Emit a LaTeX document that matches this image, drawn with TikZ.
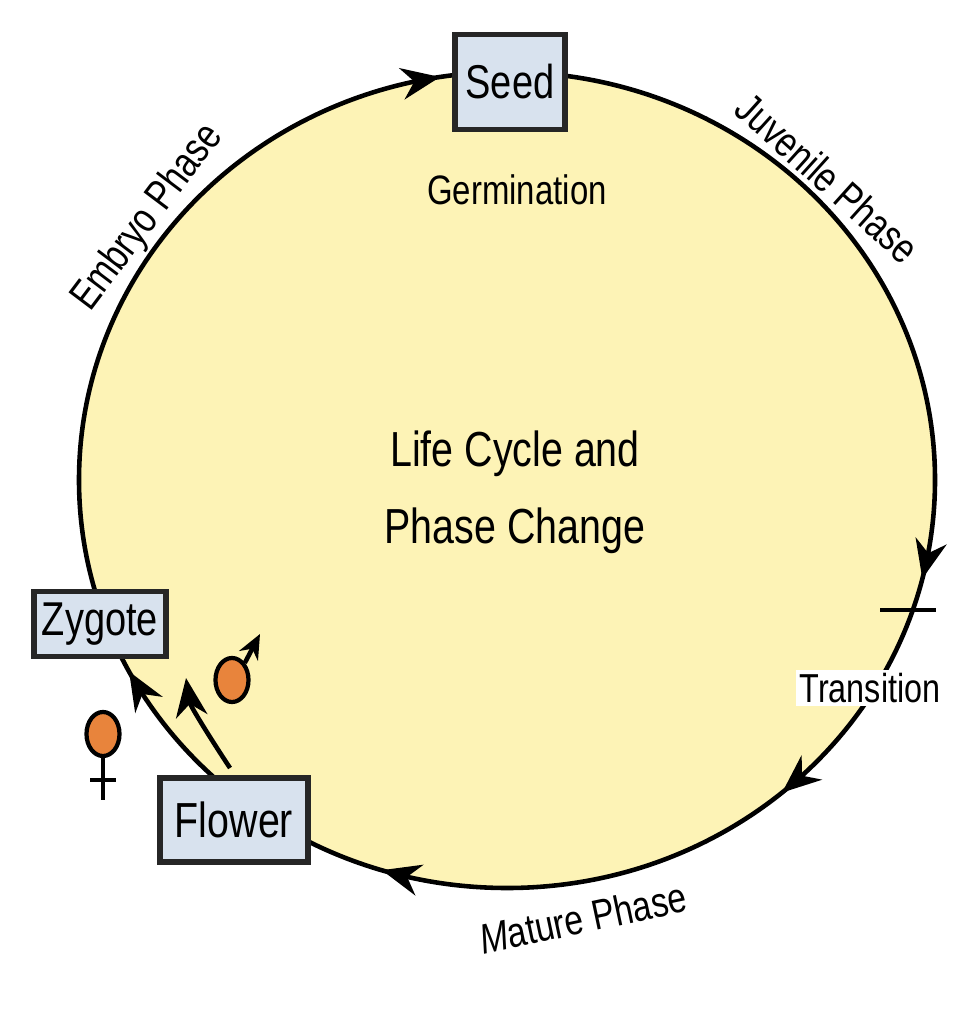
\documentclass[tikz,border=0pt]{standalone}
\usepackage{fontspec}
\setmainfont[FakeStretch=0.8]{Liberation Sans}
\usetikzlibrary{arrows.meta}
\definecolor{cyc}{HTML}{FDF3B6}
\definecolor{boxc}{HTML}{D8E2EE}
\definecolor{org}{HTML}{E8843C}
\tikzset{
  stage/.style={draw=black!85, line width=1.6pt, fill=boxc, inner sep=0pt, font=\fontsize{14}{16}\selectfont},
  lbl/.style={font=\fontsize{12}{14}\selectfont},
  tip/.style={-{Stealth[length=11pt,width=9pt]}, line width=1.3pt},
  gam/.style={draw, line width=1.2pt, fill=org, circle, inner sep=0pt, xscale=0.75, minimum size=0.44cm},
}
\begin{document}
\begin{tikzpicture}[x=0.01cm,y=-0.01cm]
\useasboundingbox (0,0) rectangle (956,1022);
\fill[white] (0,0) rectangle (956,1022);
\draw[line width=1.3pt, fill=cyc] (507,480) ellipse [x radius=428, y radius=408];
% direction arrows along the cycle (clockwise)
\foreach \t in {99, -14, -50, -107, -152}{
  \coordinate (a\t) at ({507+428*cos(\t+3)},{480-408*sin(\t+3)});
  \coordinate (b\t) at ({507+428*cos(\t)},{480-408*sin(\t)});
  \draw[tip] (a\t) -- (b\t);
}
% transition tick
\coordinate (t1) at (880,610); \coordinate (t2) at (936,610);
\draw[line width=1.3pt] (t1) -- (t2);
\node[lbl, fill=white, inner sep=1pt, font=\fontsize{11.5}{13}\selectfont] (trans) at (870,688) {Transition};
% boxes
\node[stage, minimum width=1.1cm, minimum height=0.95cm] (seed) at (510,82) {\fontsize{13.5}{16}\selectfont Seed};
\node[stage, minimum width=1.32cm, minimum height=0.65cm, font=\fontsize{13.5}{16}\selectfont] (zyg) at (100,624) {Zygote};
\node[stage, minimum width=1.48cm, minimum height=0.84cm] (flow) at (234,820) {Flower};
\node[lbl, font=\fontsize{11.7}{14}\selectfont] (germ) at (517,190) {Germination};
\node[font=\fontsize{14}{22}\selectfont, align=center] (title) at (515,492) {Life Cycle and\\Phase Change};
\node[lbl, rotate=53] (emb) at (148,218) {Embryo Phase};
\node[lbl, rotate=-42] (juv) at (828,178) {Juvenile Phase};
\node[lbl, rotate=12] (mat) at (583,918) {\textit{M}ature Phase};
% gametes
\coordinate (g1) at (230,768);
\coordinate (g2) at (186,678);
\draw[tip] (g1) .. controls (205,730) and (190,705) .. (g2);
\node[gam] (male) at (232,680) {};
\coordinate (m2) at (260,634);
\draw[-{Stealth[length=7pt,width=6pt]}, line width=1.3pt] (male.north east) -- (m2);
\node[gam] (fem) at (103,734) {};
\coordinate (f2) at (103,800);
\draw[line width=1.3pt] (fem.south) -- (f2);
\coordinate (c1) at (90,780); \coordinate (c2) at (116,780);
\draw[line width=1.3pt] (c1) -- (c2);
\end{tikzpicture}
\end{document}
